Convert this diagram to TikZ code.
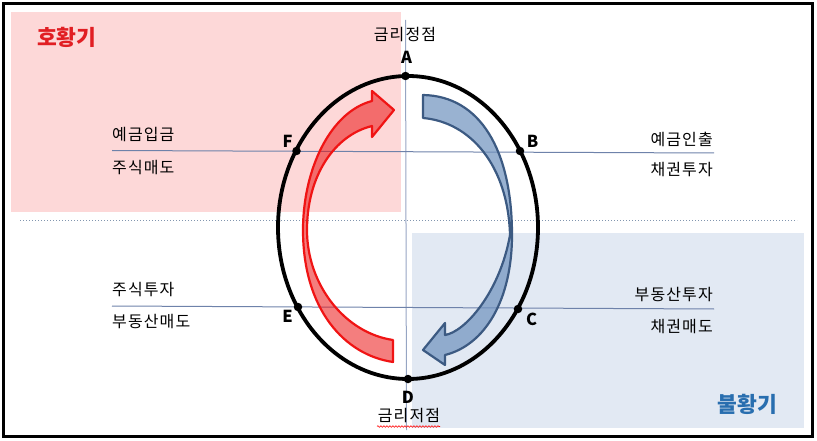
\documentclass[tikz,border=0pt]{standalone}
\usepackage{fontspec}
\newfontfamily\kr{Noto Sans CJK KR}
\newfontfamily\krsp[LetterSpace=7]{Noto Sans CJK KR}
\usetikzlibrary{decorations.pathmorphing,shapes.geometric}
\definecolor{pinkbg}{RGB}{253,216,216}
\definecolor{bluebg}{RGB}{226,233,243}
\definecolor{guide}{RGB}{110,130,170}
\definecolor{vguide}{RGB}{150,165,195}
\definecolor{dotline}{RGB}{130,150,175}
\definecolor{redfill}{RGB}{235,20,20}
\definecolor{redline}{RGB}{240,20,20}
\definecolor{bluefill}{RGB}{110,145,190}
\definecolor{blueline}{RGB}{60,90,130}
\definecolor{hotred}{RGB}{225,30,35}
\definecolor{coldblue}{RGB}{40,110,175}
\tikzset{
  lbl/.style={font=\krsp\fontsize{16}{18}\selectfont, inner sep=0pt},
  pt/.style={circle, fill=black, inner sep=0pt, minimum size=8.5pt},
  ptlbl/.style={font=\kr\bfseries\fontsize{16.5}{18}\selectfont, inner sep=0pt},
  season/.style={font=\kr\bfseries\fontsize{21.5}{24}\selectfont, inner sep=0pt},
  guideline/.style={draw=guide, line width=1pt},
}
\begin{document}
\begin{tikzpicture}[x=1pt,y=-1pt]
\useasboundingbox (0,0) rectangle (817,441);
% background regions
\fill[pinkbg] (11,12) rectangle (401,212);
\fill[bluebg] (412,233) rectangle (804,428);
% dotted divider
\draw[dotline, dotted, line width=1pt] (20,220) -- (797,220);
% vertical axis
\coordinate (vtop) at (405.5,20);
\coordinate (vbot) at (406.5,430);
\draw[vguide, line width=1pt] (vtop) -- (vbot);
% horizontal guides
\coordinate (h1l) at (112,150.5);
\coordinate (h1r) at (714,153);
\coordinate (h2l) at (112,306);
\coordinate (h2r) at (714,309);
\draw[guideline] (h1l) -- (h1r);
\draw[guideline] (h2l) -- (h2r);
% cycle ellipse
\node[draw=black, line width=3.8pt, ellipse, minimum width=260pt, minimum height=303pt, inner sep=0pt] (cyc) at (408,227.5) {};
% red arrow (expansion)
\draw[redline, line width=2.2pt, line join=round, fill=redfill, fill opacity=0.55]
  (393,340) .. controls (345,333) and (307,285) .. (307,230)
  .. controls (307,175) and (335,135) .. (372,126)
  -- (372,137) -- (394,110) -- (372,91) -- (372,101)
  .. controls (330,112) and (303,170) .. (303,230)
  .. controls (303,310) and (345,355) .. (393,362) -- cycle;
% blue arrow (recession)
\draw[blueline, line width=2.2pt, line join=round, fill=bluefill, fill opacity=0.7]
  (423,95) .. controls (480,96) and (512,150) .. (512,235)
  .. controls (512,300) and (485,345) .. (445,355)
  -- (445,365) -- (423,350) -- (445,323) -- (445,335)
  .. controls (465,332) and (500,292) .. (510,235)
  .. controls (508,165) and (470,122) .. (423,118) -- cycle;
% points
\node[pt] (A) at (405.5,76) {};
\node[pt] (B) at (520,151) {};
\node[pt] (C) at (518,309) {};
\node[pt] (D) at (408,379) {};
\node[pt] (E) at (298,307) {};
\node[pt] (F) at (296.5,151) {};
\node[ptlbl] (Al) at (406.5,57.5) {A};
\node[ptlbl] (Bl) at (532.5,141.5) {B};
\node[ptlbl] (Cl) at (531.5,319.5) {C};
\node[ptlbl] (Dl) at (408,397.5) {D};
\node[ptlbl] (El) at (287.5,316) {E};
\node[ptlbl] (Fl) at (287.5,141) {F};
% titles
\node[lbl] (top) at (405,35) {금리정점};
\node[lbl] (bot) at (409,416) {금리저점};
\draw[red, line width=0.6pt, decorate, decoration={snake, amplitude=0.8pt, segment length=3pt}] (377,426.5) -- (440,426.5);
% side labels
\node[lbl, anchor=west] (l1) at (112,135) {예금입금};
\node[lbl, anchor=west] (l2) at (112,168) {주식매도};
\node[lbl, anchor=east] (r1) at (713,139) {예금인출};
\node[lbl, anchor=east] (r2) at (713,170) {채권투자};
\node[lbl, anchor=west] (l3) at (112,290) {주식투자};
\node[lbl, anchor=west] (l4) at (112,321.5) {부동산매도};
\node[lbl, anchor=east] (r3) at (713,295) {부동산투자};
\node[lbl, anchor=east] (r4) at (713,326.5) {채권매도};
% seasons
\node[season, text=hotred, anchor=west] (hot) at (37,37.5) {호황기};
\node[season, text=coldblue, anchor=east] (cold) at (777,404) {불황기};
% frame
\draw[black, line width=2.2pt] (3.5,3.5) rectangle (812.5,436.5);
\end{tikzpicture}
\end{document}
